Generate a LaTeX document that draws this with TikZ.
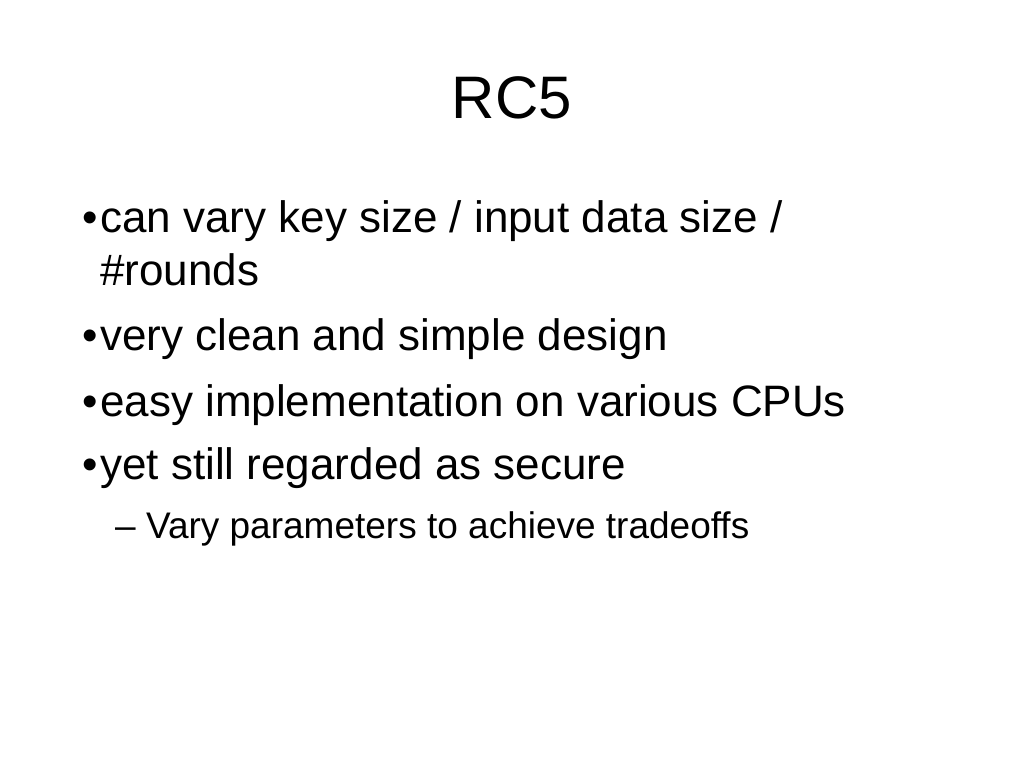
\documentclass[tikz,border=0pt]{standalone}
\usepackage{fontspec}
\setmainfont{Liberation Sans}
\begin{document}
\begin{tikzpicture}[x=1pt,y=-1pt,
  txt/.style={anchor=base west,inner sep=0pt,font=\fontsize{44}{50}\selectfont},
  sub/.style={anchor=base west,inner sep=0pt,font=\fontsize{37}{42}\selectfont}]
\useasboundingbox[fill=white] (0,0) rectangle (1024,768);
\node[anchor=base,inner sep=0pt,font=\fontsize{60}{66}\selectfont] (title) at (512,118) {RC5};
\node[txt,anchor=base] (b1) at (90,232) {•};
\node[txt] (t1) at (100,232) {can vary key size / input data size /};
\node[txt] (t1b) at (100,285) {\#rounds};
\node[txt,anchor=base] (b2) at (90,350) {•};
\node[txt] (t2) at (100,350) {very clean and simple design};
\node[txt,anchor=base] (b3) at (90,416) {•};
\node[txt] (t3) at (100,416) {easy implementation on various CPUs};
\node[txt,anchor=base] (b4) at (90,479) {•};
\node[txt] (t4) at (100,479) {yet still regarded as secure};
\node[sub] (t5) at (115,538) {– Vary parameters to achieve tradeoffs};
\end{tikzpicture}
\end{document}
